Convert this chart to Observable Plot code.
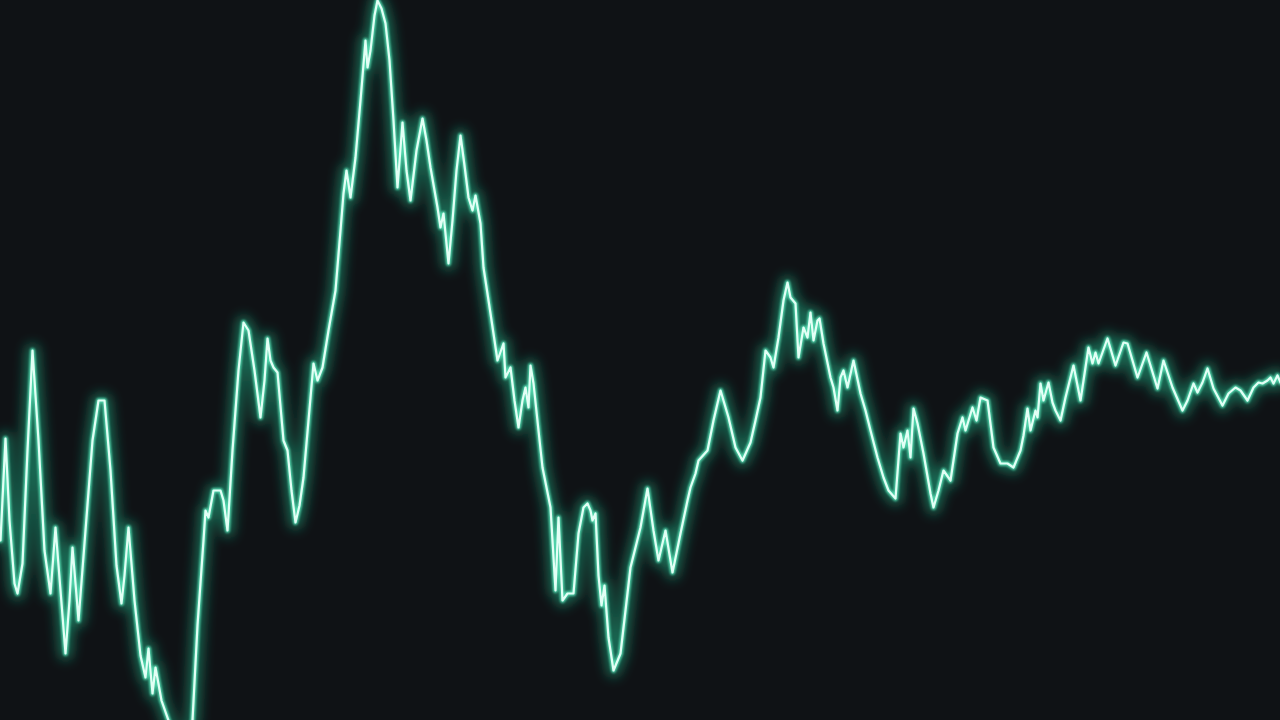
<!DOCTYPE html>
<html>
<head>
<meta charset="utf-8">
<script src="https://cdn.jsdelivr.net/npm/d3@7"></script>
<script src="https://cdn.jsdelivr.net/npm/@observablehq/plot@0.6"></script>
<style>
  html, body { margin: 0; padding: 0; background: #0f1215; overflow: hidden; }
  #chart { width: 1280px; height: 720px; }
</style>
</head>
<body>
<div id="chart"></div>
<script>
// Sample times (horizontal position of each sample)
const time = [
  0,5,9,14,17,22,27,32,38,44,50,55,60,65,69,72,76,78,85,92,98,104,110,116,121,124,128,134,140,145,148,152,155,161,168,175,185,192,197,203,205,208,213,220,223,227,232,238,243,248,254,260,264,267,270,273,277,283,287,291,295,299,303,308,313,317,322,328,335,340,343,346,350,355,360,365,367,370,374,377,381,385,389,393,397,402,406,410,416,422,426,430,437,440,443,448,452,456,460,464,468,472,475,480,483,490,497,503,505,510,514,518,522,525,528,530,533,538,542,550,555,558,562,567,573,578,583,587,590,592,595,598,601,604,608,613,620,625,630,635,640,647,653,658,665,672,680,687,690,695,698,707,713,720,728,735,742,750,755,760,765,770,773,778,783,787,790,795,798,803,807,810,813,817,819,823,830,833,837,840,843,847,853,860,865,870,877,883,888,895,900,903,907,910,913,917,923,930,933,938,943,950,957,962,965,972,976,980,987,993,1000,1007,1013,1020,1023,1027,1030,1035,1037,1040,1043,1048,1052,1055,1060,1065,1073,1080,1088,1092,1095,1098,1107,1115,1123,1127,1137,1146,1157,1163,1172,1182,1187,1193,1197,1202,1207,1213,1222,1228,1235,1240,1247,1253,1258,1262,1267,1270,1273,1277,1280
];
// Signal amplitude at each sample
const amplitude = [
  -180,-78,-160,-223,-233,-203,-90,10,-80,-190,-233,-167,-230,-293,-240,-187,-235,-260,-170,-80,-40,-40,-110,-205,-243,-215,-167,-240,-295,-317,-288,-333,-307,-340,-360,-385,-385,-360,-265,-180,-150,-157,-130,-130,-140,-170,-90,-10,38,30,-10,-57,-20,22,0,-7,-12,-80,-90,-130,-162,-145,-117,-60,-3,-20,-7,30,70,130,167,190,163,203,260,320,293,310,345,360,352,337,300,240,173,238,190,160,210,242,220,193,153,133,147,97,140,190,225,195,163,150,165,137,93,47,0,17,-17,-7,-40,-67,-40,-27,-47,-5,-23,-70,-107,-147,-230,-157,-240,-233,-233,-173,-147,-143,-150,-160,-153,-215,-245,-225,-277,-310,-293,-250,-207,-187,-167,-128,-170,-200,-170,-212,-173,-140,-127,-113,-100,-90,-60,-30,-57,-87,-100,-82,-60,-37,10,3,-7,23,60,78,63,57,3,33,23,48,20,40,42,17,-17,-27,-50,-17,-10,-27,0,-33,-50,-70,-97,-117,-130,-138,-73,-87,-70,-97,-48,-63,-93,-133,-147,-130,-110,-120,-73,-57,-70,-47,-60,-37,-40,-87,-103,-103,-107,-90,-75,-48,-70,-50,-57,-23,-40,-22,-42,-50,-60,-37,-5,-40,13,-3,8,-3,22,-5,18,17,-17,8,-28,0,-27,-50,-40,-23,-32,-22,-8,-28,-45,-33,-27,-30,-40,-27,-22,-23,-20,-17,-23,-15,-22
];

const data = time.map((t, i) => ({ t, a: amplitude[i] }));

const plot = Plot.plot({
  width: 1280,
  height: 720,
  margin: 0,
  x: { domain: [0, 1280], axis: null },
  y: { domain: [-360, 360], axis: null },
  style: { background: "#0f1215", overflow: "visible" },
  marks: [
    Plot.line(data, { x: "t", y: "a", stroke: "#26b88c", strokeWidth: 14, strokeOpacity: 0.5, curve: "linear", strokeLinejoin: "round" }),
    Plot.line(data, { x: "t", y: "a", stroke: "#55dfb4", strokeWidth: 5, strokeOpacity: 0.9, curve: "linear", strokeLinejoin: "round" }),
    Plot.line(data, { x: "t", y: "a", stroke: "#e2fff5", strokeWidth: 2.2, curve: "linear", strokeLinejoin: "round" })
  ]
});

const svg = d3.select(plot);
svg.insert("defs", ":first-child").html(
  '<filter id="glow" x="-10%" y="-10%" width="120%" height="120%"><feGaussianBlur stdDeviation="6"/></filter>' +
  '<filter id="soft" x="-10%" y="-10%" width="120%" height="120%"><feGaussianBlur stdDeviation="1.2"/></filter>'
);
const lines = svg.selectAll('g[aria-label="line"]').nodes();
if (lines[0]) lines[0].setAttribute("filter", "url(#glow)");
if (lines[1]) lines[1].setAttribute("filter", "url(#soft)");

document.getElementById("chart").appendChild(plot);
</script>
</body>
</html>
